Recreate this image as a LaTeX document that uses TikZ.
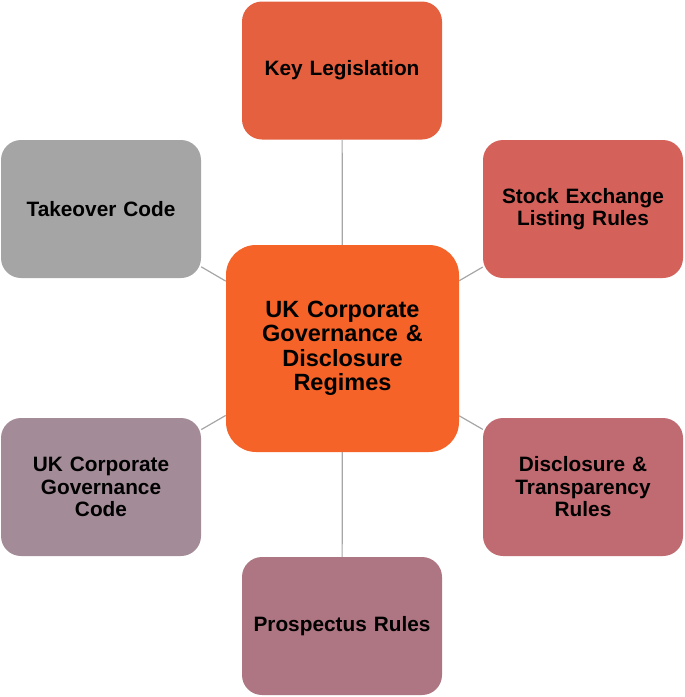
\documentclass[tikz,border=0pt]{standalone}
\usepackage{fontspec}
\setmainfont{Liberation Sans}
\definecolor{cKey}{HTML}{E5603F}
\definecolor{cTake}{HTML}{A5A5A5}
\definecolor{cStock}{HTML}{D4625B}
\definecolor{cCenter}{HTML}{F56328}
\definecolor{cCode}{HTML}{A38C98}
\definecolor{cDisc}{HTML}{C06A71}
\definecolor{cPros}{HTML}{AE7682}
\definecolor{cLine}{HTML}{A6A6A6}
\begin{document}
\begin{tikzpicture}[x=1pt,y=-1pt,
  box/.style={rectangle, rounded corners=20pt, minimum width=200pt, minimum height=138pt,
    inner sep=0pt, align=center, text width=190pt,
    font=\fontsize{20.8pt}{22.5pt}\selectfont\bfseries, text=black},
  hub/.style={rectangle, rounded corners=30pt, minimum width=233pt, minimum height=207pt,
    inner sep=0pt, align=center, text width=220pt, fill=cCenter,
    font=\fontsize{23.5pt}{24.5pt}\selectfont\bfseries, text=black},
  link/.style={draw=cLine, line width=1.2pt}]
\useasboundingbox (0,0) rectangle (685,697);
\node[hub] (c) at (342.5,348.5) {UK Corporate\\Governance \&\\Disclosure\\Regimes};
\node[box, fill=cKey] (k) at (342,70.5) {Key Legislation};
\node[box, fill=cTake] (t) at (101,209) {Takeover Code};
\node[box, fill=cStock] (s) at (583,209) {Stock Exchange\\Listing Rules};
\node[box, fill=cCode] (g) at (101,487) {UK Corporate\\Governance\\Code};
\node[box, fill=cDisc] (d) at (583,487) {Disclosure \&\\Transparency\\Rules};
\node[box, fill=cPros] (p) at (342,626) {Prospectus Rules};
\draw[link] (c) -- (k);
\draw[link] (c) -- (t);
\draw[link] (c) -- (s);
\draw[link] (c) -- (g);
\draw[link] (c) -- (d);
\draw[link] (c) -- (p);
\end{tikzpicture}
\end{document}
